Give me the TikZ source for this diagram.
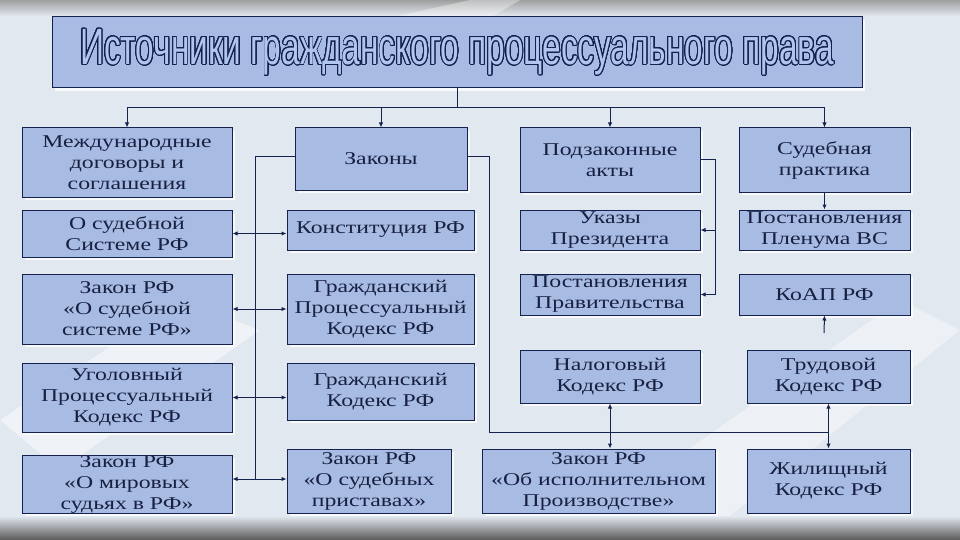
\documentclass[tikz,border=0pt]{standalone}
\usepackage{fontspec}
\usepackage[copies]{contour}
\usetikzlibrary{arrows.meta,shadows}
\setmainfont{Liberation Serif}[FakeStretch=1.32]
\newfontfamily\titlefont{Liberation Sans}[FakeStretch=0.655]
\definecolor{bgmain}{RGB}{226,232,239}
\definecolor{boxfill}{RGB}{168,188,227}
\definecolor{boxline}{RGB}{22,34,78}
\definecolor{boxtext}{RGB}{24,32,66}
\definecolor{titlefill}{RGB}{176,198,238}
\contourlength{0.9pt}
\contournumber{32}

\begin{document}
\begin{tikzpicture}[x=1pt,y=-1pt,
    box/.style={draw=boxline,line width=1pt,fill=boxfill,text=boxtext,align=center,inner sep=0pt,
      font=\fontsize{18}{21}\selectfont,
      drop shadow={shadow xshift=3pt,shadow yshift=-3pt,fill=white,opacity=0.75}},
    conn/.style={draw=boxline,line width=1pt},
    arr/.style={conn,-{Latex[length=5pt,width=4.5pt]}}]
  % background
  \useasboundingbox (0,0) rectangle (960,540);
  \fill[bgmain] (0,0) rectangle (960,540);
  \shade[top color=gray!75,bottom color=bgmain] (0,0) rectangle (960,16);
  \fill[white,opacity=0.45] (0,420) -- (180,300) -- (260,330) -- (60,470) -- cycle;
  \fill[white,opacity=0.4] (560,540) -- (900,300) -- (960,330) -- (700,540) -- cycle;
  \fill[white,opacity=0.35] (380,20) -- (470,0) -- (520,0) -- (420,60) -- cycle;
  \shade[top color=bgmain,bottom color=black!65] (0,516) rectangle (960,540);

  % title
  \node[box,minimum width=810pt,minimum height=71pt] (title) at (457,52.5)
    {\fontsize{51}{51}\titlefont\textcolor{titlefill}{\contour{boxline}{Источники гражданского процессуального права}}};

  % first row
  \node[box,minimum width=210pt,minimum height=69pt] (intl) at (127,162.5) {Международные\\договоры и\\соглашения};
  \node[box,minimum width=172pt,minimum height=62pt] (laws) at (381,159) {Законы};
  \node[box,minimum width=180pt,minimum height=64pt] (bylaws) at (610,160) {Подзаконные\\акты};
  \node[box,minimum width=171pt,minimum height=64pt] (court) at (824.5,160) {Судебная\\практика};

  % left column
  \node[box,minimum width=210pt,minimum height=47pt] (judsys) at (127,233.5) {О судебной\\Системе РФ};
  \node[box,minimum width=210pt,minimum height=70pt] (judlaw) at (127,309) {Закон РФ\\«О судебной\\системе РФ»};
  \node[box,minimum width=210pt,minimum height=69pt] (crimcode) at (127,397.5) {Уголовный\\Процессуальный\\Кодекс РФ};
  \node[box,minimum width=210pt,minimum height=58pt] (magistr) at (127,484) {Закон РФ\\«О мировых\\судьях в РФ»};

  % laws column
  \node[box,minimum width=187pt,minimum height=40pt] (const) at (380.5,230) {Конституция РФ};
  \node[box,minimum width=187pt,minimum height=70pt] (civproc) at (380.5,309) {Гражданский\\Процессуальный\\Кодекс РФ};
  \node[box,minimum width=187pt,minimum height=57pt] (civcode) at (380.5,391.5) {Гражданский\\Кодекс РФ};
  \node[box,minimum width=164pt,minimum height=64pt] (bailiff) at (369,481) {Закон РФ\\«О судебных\\приставах»};

  % bylaws column
  \node[box,minimum width=180pt,minimum height=40pt] (decrees) at (610,230) {Указы\\Президента};
  \node[box,minimum width=180pt,minimum height=41pt] (govdecree) at (610,294.5) {Постановления\\Правительства};
  \node[box,minimum width=180pt,minimum height=53pt] (tax) at (610,376.5) {Налоговый\\Кодекс РФ};
  \node[box,minimum width=233pt,minimum height=64pt] (enforce) at (598.5,481) {Закон РФ\\«Об исполнительном\\Производстве»};

  % court column
  \node[box,minimum width=171pt,minimum height=40pt] (plenum) at (824.5,230) {Постановления\\Пленума ВС};
  \node[box,minimum width=171pt,minimum height=41pt] (koap) at (824.5,294.5) {КоАП РФ};
  \node[box,minimum width=163pt,minimum height=53pt] (labour) at (828.5,376.5) {Трудовой\\Кодекс РФ};
  \node[box,minimum width=163pt,minimum height=64pt] (housing) at (828.5,481) {Жилищный\\Кодекс РФ};

  % title to the four kinds of sources
  \coordinate (hub) at (457,108);
  \draw[conn] (title.south) -- (hub);
  \draw[arr] (hub) -| (intl.north);
  \draw[arr] (hub) -| (laws.north);
  \draw[arr] (hub) -| (bylaws.north);
  \draw[arr] (hub) -| (court.north);

  % laws, left trunk
  \coordinate (lawsL) at (255,157);
  \coordinate (lawsLend) at (255,479);
  \draw[conn] (laws.west |- lawsL) -- (lawsL) -- (lawsLend);
  \draw[arr] (lawsL |- judsys.east) -- (judsys.east);
  \draw[arr] (lawsL |- judsys.east) -- (const.west |- judsys.east);
  \draw[arr] (lawsL |- judlaw.east) -- (judlaw.east);
  \draw[arr] (lawsL |- judlaw.east) -- (civproc.west |- judlaw.east);
  \draw[arr] (lawsL |- crimcode.east) -- (crimcode.east);
  \draw[arr] (lawsL |- crimcode.east) -- (civcode.west |- crimcode.east);
  \draw[arr] (lawsLend) -- (lawsLend -| magistr.east);
  \draw[arr] (lawsLend) -- (lawsLend -| bailiff.west);

  % laws, right trunk to the codes
  \coordinate (lawsR) at (489,157);
  \coordinate (codesbus) at (489,432);
  \draw[conn] (laws.east |- lawsR) -- (lawsR) -- (codesbus) -- (labour.south |- codesbus);
  \draw[arr] (tax.south |- codesbus) -- (tax.south);
  \draw[arr] (tax.south |- codesbus) -- (tax.south |- enforce.north);
  \draw[arr] (labour.south |- codesbus) -- (labour.south);
  \draw[arr] (labour.south |- codesbus) -- (housing.north);

  % bylaws
  \coordinate (bylawsR) at (715,160);
  \draw[conn] (bylaws.east |- bylawsR) -- (bylawsR) -- (bylawsR |- govdecree.east);
  \draw[arr] (bylawsR |- decrees.east) -- (decrees.east);
  \draw[arr] (bylawsR |- govdecree.east) -- (govdecree.east);

  % court practice
  \draw[arr] (court.south) -- (plenum.north);
  \coordinate (koaptail) at (824,333);
  \draw[arr] (koaptail) -- (koap.south);
\end{tikzpicture}
\end{document}
